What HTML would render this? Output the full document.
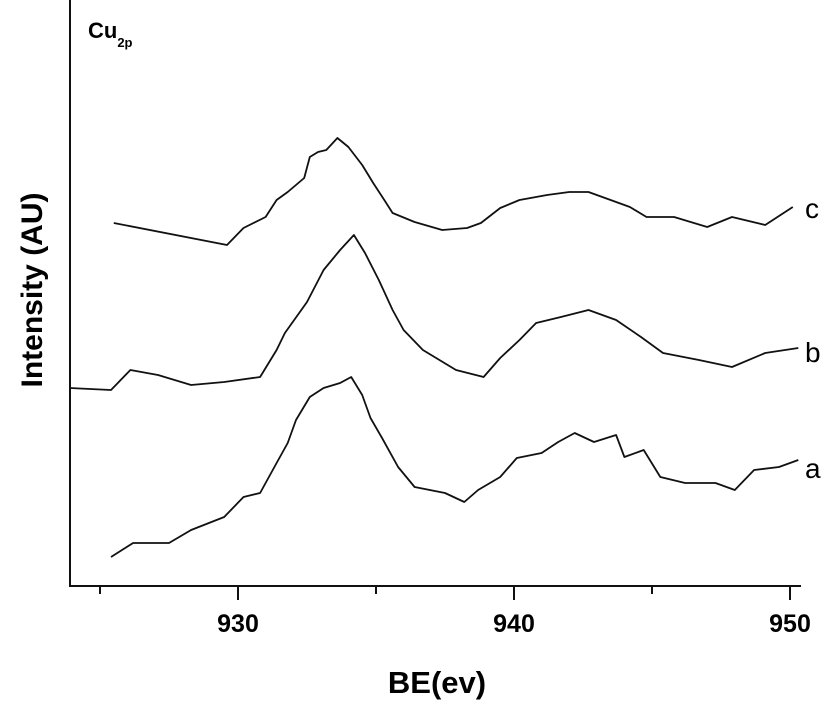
<!DOCTYPE html>
<html><head><meta charset="utf-8"><style>
html,body{margin:0;padding:0;background:#fff;}
svg{display:block;font-family:"Liberation Sans",Arial,sans-serif;}
</style></head><body>
<svg id="chart" width="832" height="708" viewBox="0 0 832 708">
<g id="axes"></g>
<g id="series"></g>
<text x="88" y="38" font-size="22" font-weight="bold">Cu<tspan font-size="13" dy="9">2p</tspan></text>
<text transform="translate(42,290) rotate(-90)" text-anchor="middle" font-size="30" font-weight="bold">Intensity (AU)</text>
<text x="437" y="693" text-anchor="middle" font-size="31" font-weight="bold">BE(ev)</text>
</svg>
<script>
const xTickValues=[925,930,935,940,945,950];
const xTickLabels=["","930","","940","","950"];
const seriesNames=["c","b","a"];
const cEnergy=[925.5,929.6,930.2,931,931.4,931.8,932.4,932.6,932.9,933.2,933.6,934,934.5,934.9,935.3,935.6,936.4,937.4,938.3,938.8,939.5,940.2,941.2,942,942.7,943.5,944.2,944.8,945.8,947,947.9,949.1,950.1];
const cValues=[377,355,372,383,400,408,422,443,448,450,462,453,435,417,400,387,378,370,372,377,392,400,405,408,408,400,393,383,383,373,383,375,393];
const bEnergy=[923.9,925.4,926.1,927.1,928.3,929.5,930.8,931.4,931.7,932.5,933.1,933.7,934.2,934.6,935.1,935.6,936,936.7,937.9,938.9,939.5,940.2,940.8,941.7,942.7,943.7,944.6,945.4,946.7,947.9,949.1,950.3];
const bValues=[212,210,230,225,215,218,223,250,267,298,330,350,365,347,320,290,270,250,230,223,242,260,277,283,290,280,263,247,240,233,247,252];
const aEnergy=[925.4,926.2,927.5,928.3,929.5,930.2,930.8,931.4,931.8,932.1,932.6,933.1,933.7,934.1,934.5,934.8,935.2,935.8,936.4,937.5,938.2,938.7,939.5,940.1,941,941.6,942.2,942.9,943.7,944,944.7,945.3,946.2,947.3,948,948.7,949.6,950.3];
const aValues=[43,57,57,70,83,103,107,137,157,180,203,212,217,223,205,182,163,133,113,107,98,110,123,142,147,158,167,158,165,143,150,123,117,117,110,130,133,140];

const NS="http://www.w3.org/2000/svg";
function xs(v){return 238+(v-930)*27.6;}
function ys(v){return 600-v;}
const axes=document.getElementById('axes');
const ser=document.getElementById('series');
function mk(tag,attrs,parent){const e=document.createElementNS(NS,tag);for(const k in attrs)e.setAttribute(k,attrs[k]);parent.appendChild(e);return e;}

const yAxis=mk('line',{x1:70,y1:0,x2:70,y2:587,stroke:'#111','stroke-width':2},axes);


const xAxis=mk('line',{x1:69,y1:586,x2:801,y2:586,stroke:'#111','stroke-width':2},axes);


xTickValues.forEach((v,i)=>{
  const big=xTickLabels[i]!=="";
  const t=mk('line',{x1:xs(v),y1:586,x2:xs(v),y2:big?600:594,stroke:'#111','stroke-width':2},axes);
  
  
  if(big){
    const l=mk('text',{x:xs(v),y:632,'text-anchor':'middle','font-size':25,'font-weight':'bold'},axes);
    l.textContent=xTickLabels[i];
    
    
  }
});
const all=[[cEnergy,cValues,208],[bEnergy,bValues,352],[aEnergy,aValues,468]];
all.forEach((s,i)=>{
  const [ex,vals,ly]=s;
  const d=vals.map((v,j)=>(j?'L':'M')+xs(ex[j]).toFixed(1)+','+ys(v).toFixed(1)).join('');
  const p=mk('path',{d:d,fill:'none',stroke:'#111','stroke-width':1.8,'stroke-linejoin':'round'},ser);
  
  
  const lab=mk('text',{x:805,y:ly+10,'font-size':28},ser);
  lab.textContent=seriesNames[i];
  
  
});
</script>
</body></html>
